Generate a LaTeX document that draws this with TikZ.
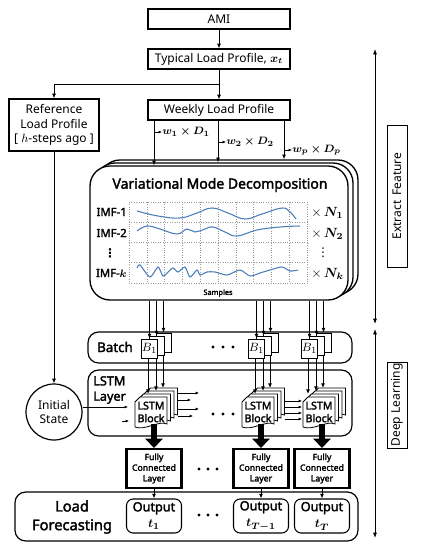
\documentclass[tikz,border=0pt]{standalone}
\usepackage{amsmath}
\usepackage{bm}
\usepackage{fontspec}
\setmainfont{Noto Sans}[AutoFakeBold=2.2]
\newfontfamily\dejavu{DejaVu Sans}
\usetikzlibrary{arrows.meta,calc}
\definecolor{wavec}{RGB}{74,126,187}
\newcommand\lstmlayer[2]{%
  \draw[fill=white, line width=0.6pt] (#1,#2+5) -- (#1+5,#2) -- (#1+32,#2) -- (#1+32,#2+27)
    .. controls (#1+24,#2+23) and (#1+10,#2+34) .. (#1,#2+30) -- cycle;}
\newcommand\unitgroup[4]{%
  \foreach \k in {2,1} {\node[bbox] (#1b\k) at ({#2+7.5+7*\k},{348.5-3*\k}) {};}
  \node[bbox] (#1b0) at ({#2+7.5},348.5) {$B_1$};
  \draw[arr] (vmd0.south -| #1b0) -- (#1b0.north);
  \draw[arr] (vmd0.south -| #1b1) -- (#1b1.north);
  \draw[arr] (vmd0.south -| #1b2) -- (#1b2.north);
  \foreach \k in {3,2,1,0} {\lstmlayer{#3+3.5*\k}{397-3*\k}}
  \coordinate (#1t1) at (#3,394);
  \coordinate (#1t2) at (#3,391);
  \coordinate (#1t3) at (#3,388);
  \path ($(#1b0.south)+(-1.5,0)$) coordinate (#1p0);
  \path ($(#1b0.south)+(6.5,0)$) coordinate (#1p1);
  \path ($(#1b1.south)+(6.5,0)$) coordinate (#1p2);
  \draw[arr] (#1p0) -- (#1p0 |- #1t1);
  \draw[arr] (#1p1) -- (#1p1 |- #1t2);
  \draw[arr] (#1p2) -- (#1p2 |- #1t3);
  \node[font=\bfseries\fontsize{8}{9.5}\selectfont, align=center] (#1lstm) at ({#3+16},412) {LSTM\\Block};
  \coordinate (#1bot) at ({#3+19},424);
  \node[fcbox] (#1fc) at ({#3+19},468.5) {Fully\\Connected\\Layer};
  \node[outbox] (#1out) at ({#3+19},516) {Output\\#4};
  \draw[fatarr] (#1bot) -- (#1fc.north);
  \draw[arr] (#1fc) -- (#1out);
}
\begin{document}
\begin{tikzpicture}[x=0.75pt,y=-0.75pt,
  every node/.style={inner sep=0pt},
  box/.style={draw, line width=0.9pt, fill=white, align=center, font=\fontsize{9}{11}\selectfont},
  arr/.style={line width=0.7pt, -{Latex[length=3.5pt,width=3pt]}},
  sarr/.style={line width=0.5pt, -{Latex[length=2.5pt,width=2.2pt]}},
  fatarr/.style={line width=5pt, -{Triangle[length=7pt,width=13pt]}},
  vmdbox/.style={draw, fill=white, line width=1pt, rounded corners=15pt, minimum width=258*0.75pt, minimum height=134*0.75pt},
  panel/.style={draw, line width=0.9pt, rounded corners=8pt},
  bbox/.style={draw, fill=white, line width=0.6pt, minimum width=15*0.75pt, minimum height=19*0.75pt, font=\fontsize{9.5}{10}\selectfont},
  fcbox/.style={draw, fill=white, line width=1.6pt, align=center, font=\bfseries\fontsize{6.5}{8}\selectfont, minimum width=55*0.75pt, minimum height=39*0.75pt},
  outbox/.style={draw, fill=white, line width=0.8pt, rounded corners=5pt, align=center, font=\bfseries\fontsize{9.5}{12.5}\selectfont, minimum width=55*0.75pt, minimum height=34*0.75pt},
  griddot/.style={gray!80, line width=0.45pt, dash pattern=on 0.6pt off 1.2pt},
  wave/.style={wavec, line width=0.8pt},
  lbl/.style={font=\bfseries\fontsize{8.5}{10}\selectfont},
  dot/.style={fill=black}]
\useasboundingbox (0,0) rectangle (421,550);
\fill[white] (0,0) rectangle (421,550);

% top boxes
\node[box, minimum width=142*0.75pt, minimum height=20*0.75pt] (ami) at (219,19) {AMI};
\node[box, minimum width=142*0.75pt, minimum height=20*0.75pt] (typ) at (219,59) {Typical Load Profile, $\bm{x_t}$};
\node[box, minimum width=142*0.75pt, minimum height=20*0.75pt] (weekly) at (219,110) {Weekly Load Profile};
\node[box, minimum width=90*0.75pt, minimum height=52*0.75pt] (ref) at (54,125) {Reference\\Load Profile\\{[} $h$-steps ago {]}};
\node[box, circle, minimum size=56*0.75pt, font=\fontsize{9}{11}\selectfont] (init) at (54,412) {Initial\\State};

\coordinate (split) at (219,84);
\draw[arr] (ami) -- (typ);
\draw[arr] (typ) -- (weekly);
\draw[arr] (split) -| (ref.north);
\draw[arr] (ref) -- (init);

% VMD stack
\node[vmdbox] (vmd2) at (229,227) {};
\node[vmdbox] (vmd1) at (224,230) {};
\node[vmdbox] (vmd0) at (219,233) {};
\coordinate (wa) at (154,0);
\coordinate (wb) at (218,0);
\coordinate (wc) at (284,0);
\draw[arr] (weekly.south -| wa) -- (vmd0.north -| wa);
\draw[arr] (weekly.south -| wb) -- (vmd1.north -| wb);
\draw[arr] (weekly.south -| wc) -- (vmd2.north -| wc);
\node[anchor=west, font=\fontsize{8}{9}\selectfont] (lw1) at (162,132) {$\bm{w_1\times D_1}$};
\node[anchor=west, font=\fontsize{8}{9}\selectfont] (lw2) at (226,142) {$\bm{w_2\times D_2}$};
\node[anchor=west, font=\fontsize{8}{9}\selectfont] (lw3) at (292,150) {$\bm{w_p\times D_p}$};
\draw[sarr] (154,132) -- (lw1.west);
\draw[sarr] (218,142) -- (lw2.west);
\draw[sarr] (284,150) -- (lw3.west);

\node[font=\bfseries\fontsize{10.5}{12}\selectfont] (vmdt) at (220,185) {Variational Mode Decomposition};
\foreach \i in {0,...,10} \draw[griddot] ({129+17.8*\i},202) -- ({129+17.8*\i},283);
\foreach \y in {202,222.25,242.5,262.75,283} \draw[griddot] (129,\y) -- (307,\y);
\node[lbl, anchor=east] (imf1) at (127,212) {IMF-1};
\node[lbl, anchor=east] (imf2) at (127,233) {IMF-2};
\node[font=\dejavu\bfseries\fontsize{9}{10}\selectfont] (imfd) at (110,253) {⋮};
\node[lbl, anchor=east] (imfk) at (127,273) {IMF-$\bm{k}$};
\node[anchor=west, font=\fontsize{10}{11}\selectfont] (n1) at (311,213) {$\times\,\bm{N_1}$};
\node[anchor=west, font=\fontsize{10}{11}\selectfont] (n2) at (311,234) {$\times\,\bm{N_2}$};
\node[font=\dejavu\fontsize{9}{10}\selectfont] (nd) at (323,253) {⋮};
\node[anchor=west, font=\fontsize{10}{11}\selectfont] (nk) at (311,274) {$\times\,\bm{N_k}$};
\node[font=\bfseries\fontsize{5.5}{6}\selectfont] (smp) at (218,293) {Samples};
\draw[wave] plot[smooth, tension=0.7] coordinates {(137,211) (158,216) (180,218) (197,213) (212,208) (228,213) (245,219) (262,214) (282,208) (290,212) (296,219)};
\draw[wave] plot[smooth, tension=0.7] coordinates {(137,231) (147,226) (160,229) (177,234) (187,229) (195,232) (205,229) (213,227) (225,232) (237,236) (257,230) (280,227) (300,226)};
\draw[wave] plot[smooth, tension=0.45] coordinates {(137,268) (140,265) (150,277) (158,267) (163,276) (168,272) (173,268) (178,272) (185,267) (190,277) (197,270) (200,275) (207,272) (215,272) (227,275) (240,270) (250,276) (260,273) (270,270) (282,267) (290,271) (298,270)};

% panels
\node[panel, minimum width=264*0.75pt, minimum height=31*0.75pt] (batch) at (220,347.5) {};
\node[panel, minimum width=264*0.75pt, minimum height=66*0.75pt] (lstmp) at (220,403) {};
\node[panel, minimum width=343*0.75pt, minimum height=49*0.75pt] (lfp) at (186.5,516.5) {};
\node[font=\bfseries\fontsize{10}{12}\selectfont] (batcht) at (115,347) {Batch};
\node[font=\bfseries\fontsize{9.5}{11.5}\selectfont, align=left, anchor=west] (lstmt) at (93,390) {LSTM\\Layer};
\node[font=\bfseries\fontsize{11}{14}\selectfont, align=center] (lft) at (72,517) {Load\\Forecasting};

% groups
\unitgroup{ga}{142}{135}{$\bm{t_1}$}
\unitgroup{gb}{249}{242}{$\bm{t_{T-1}}$}
\unitgroup{gc}{302}{303}{$\bm{t_T}$}

% LSTM side arrows
\coordinate (gain) at (128,407);
\coordinate (gain2) at (129,421);
\draw[sarr] (init.east |- gain) -- (gain);
\draw[sarr] (122,421) -- (gain2);
\foreach \y/\e in {393/199,400/191,409/199,416/193} \draw[sarr] (178,\y) -- (\e,\y);
\foreach \y in {401,407,413,419} \draw[sarr] (285,\y) -- (302,\y);

% dots
\foreach \x in {213,223,233} {\fill (\x,347) circle (1.6); \fill (\x,414) circle (1.6);}
\foreach \x in {199,208,217} {\fill (\x,469) circle (1.6); \fill (\x,515) circle (1.6);}

% right axis
\coordinate (ef1) at (375,49);
\coordinate (ef2) at (375,324);
\coordinate (dl1) at (375,329);
\coordinate (dl2) at (375,538);
\draw[line width=0.6pt, {Latex[length=4pt,width=3pt]}-{Latex[length=4pt,width=3pt]}] (ef2) -- (ef1);
\draw[line width=0.6pt, {Latex[length=4pt,width=3pt]}-{Latex[length=4pt,width=3pt]}] (dl1) -- (dl2);
\node[draw, line width=0.6pt, rotate=90, minimum width=142*0.75pt, minimum height=20*0.75pt, font=\fontsize{9}{11}\selectfont] (eft) at (397,196) {Extract\, Feature};
\node[draw, line width=0.6pt, rotate=90, minimum width=86*0.75pt, minimum height=20*0.75pt, font=\fontsize{9}{11}\selectfont] (dlt) at (397,405) {Deep Learning};
\end{tikzpicture}
\end{document}
